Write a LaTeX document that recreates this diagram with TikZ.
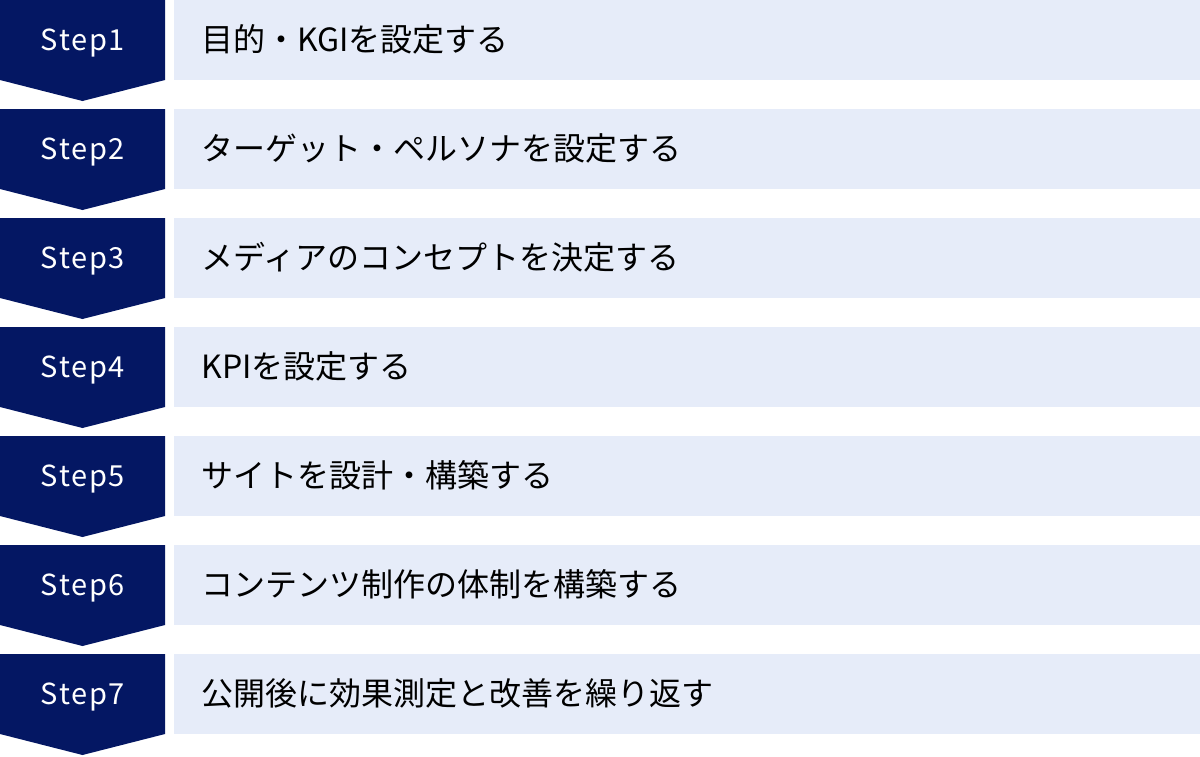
\documentclass[tikz,border=0pt]{standalone}
\usepackage{fontspec}
\setmainfont{Noto Sans CJK JP}
\newfontfamily\stepfont[LetterSpace=6]{Noto Sans CJK JP}
\definecolor{stepnavy}{HTML}{041763}
\definecolor{steppale}{HTML}{E6ECF9}
\tikzset{
  steplabel/.style={text=white,inner sep=0pt,font=\stepfont\fontsize{14.5pt}{16pt}\selectfont},
  tasklabel/.style={anchor=west,inner sep=0pt,text=black,font=\fontsize{16pt}{18pt}\selectfont},
}
\begin{document}
\begin{tikzpicture}[x=0.5pt,y=-0.5pt]
    \useasboundingbox (0,0) rectangle (1200,756);

    % Step rows
    \foreach \i/\task in {1/目的・KGIを設定する,
                          2/ターゲット・ペルソナを設定する,
                          3/メディアのコンセプトを決定する,
                          4/KPIを設定する,
                          5/サイトを設計・構築する,
                          6/コンテンツ制作の体制を構築する,
                          7/公開後に効果測定と改善を繰り返す} {
        \pgfmathsetmacro\top{(\i-1)*109}
        \fill[stepnavy] (0,\top) -- (165,\top) -- (165,\top+80) -- (82.5,\top+101) -- (0,\top+80) -- cycle;
        \fill[steppale] (174,\top) rectangle (1200,\top+80);
        \node[steplabel] (step\i) at (83,\top+43) {Step\i};
        \node[tasklabel] (task\i) at (201,\top+39) {\task};
    }

\end{tikzpicture}
\end{document}
